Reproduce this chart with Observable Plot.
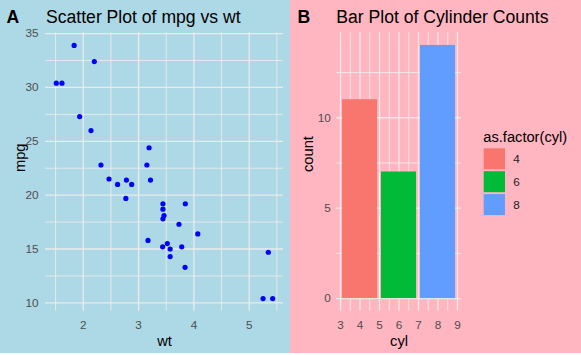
<!DOCTYPE html>
<html><head><meta charset="utf-8">
<script src="https://cdn.jsdelivr.net/npm/d3@7"></script>
<script src="https://cdn.jsdelivr.net/npm/@observablehq/plot@0.6"></script>
<style>
html,body{margin:0;padding:0;background:#fff;}
#wrap{position:relative;width:581px;height:355px;font-family:"Liberation Sans",Arial,sans-serif;}
.panel{position:absolute;top:0;height:353px;overflow:hidden;}
#pa{left:0;width:290px;background:#ADD8E6;}
#pb{left:290px;width:291px;background:#FFB6C1;}
.panel svg{position:absolute;left:0;top:0;}
</style></head><body>
<div id="wrap"><div id="pa" class="panel"></div><div id="pb" class="panel"></div></div>
<script>
// ---- data (mtcars) ----
const wt  = [2.620,2.875,2.320,3.215,3.440,3.460,3.570,3.190,3.150,3.440,3.440,4.070,3.730,3.780,5.250,5.424,5.345,2.200,1.615,1.835,2.465,3.520,3.435,3.840,3.845,1.935,2.140,1.513,3.170,2.770,3.570,2.780];
const mpg = [21.0,21.0,22.8,21.4,18.7,18.1,14.3,24.4,22.8,19.2,17.8,16.4,17.3,15.2,10.4,10.4,14.7,32.4,30.4,33.9,21.5,15.5,15.2,13.3,19.2,27.3,26.0,30.4,15.8,19.7,15.0,21.4];
const cylValues = [4, 6, 8];
const cylLevels = ["4", "6", "8"];
const cylCounts = [11, 7, 14];
const cylColors = ["#F8766D", "#00BA38", "#619CFF"];
const xTicksA = [2, 3, 4, 5];
const xMinorA = [1.5, 2.5, 3.5, 4.5, 5.5];
const yTicksA = [10, 15, 20, 25, 30, 35];
const yMinorA = [12.5, 17.5, 22.5, 27.5, 32.5];
const xTicksB = [3, 4, 5, 6, 7, 8, 9];
const xMinorB = [3.5, 4.5, 5.5, 6.5, 7.5, 8.5];
const yTicksB = [0, 5, 10];
const yMinorB = [2.5, 7.5, 12.5];

const cars = wt.map((w, i) => ({wt: w, mpg: mpg[i]}));
const bars = cylValues.map((c, i) => ({cyl: c, level: cylLevels[i], count: cylCounts[i]}));

const FONT = '"Liberation Sans", Arial, sans-serif';
const GRID = "#EBEBEB";
const TICK = "#4D4D4D";
const fmt = d => String(d);
const expand = ([a, b]) => [a - (b - a) * 0.05, b + (b - a) * 0.05];

// ---- Panel A ----
const plotA = Plot.plot({
  width: 290, height: 353,
  marginLeft: 45, marginRight: 7, marginTop: 32.3, marginBottom: 42.3,
  style: {background: "transparent", fontFamily: FONT, overflow: "visible"},
  x: {domain: expand(d3.extent(wt))},
  y: {domain: expand(d3.extent(mpg))},
  marks: [
    Plot.ruleX(xMinorA, {stroke: GRID, strokeWidth: 0.9}),
    Plot.ruleY(yMinorA, {stroke: GRID, strokeWidth: 0.9}),
    Plot.ruleX(xTicksA, {stroke: GRID, strokeWidth: 1.3}),
    Plot.ruleY(yTicksA, {stroke: GRID, strokeWidth: 1.3}),
    Plot.axisX({ticks: xTicksA, tickFormat: fmt, tickSize: 0, tickPadding: 9, label: null, fill: TICK, fontSize: 11.73}),
    Plot.axisY({ticks: yTicksA, tickFormat: fmt, tickSize: 0, tickPadding: 7, label: null, fill: TICK, fontSize: 11.73}),
    Plot.dot(cars, {x: "wt", y: "mpg", r: 2.6, fill: "blue", stroke: "none"}),
    Plot.text(["wt"], {text: d => d, frameAnchor: "bottom", lineAnchor: "bottom", dy: 34.3, fontSize: 14.67, fill: "black"}),
    Plot.text(["mpg"], {text: d => d, frameAnchor: "left", rotate: -90, dx: -25.5, fontSize: 14.67, fill: "black"}),
    Plot.text(["Scatter Plot of mpg vs wt"], {text: d => d, frameAnchor: "top-left", textAnchor: "start", lineAnchor: "bottom", dx: 0.5, dy: -10, fontSize: 17.6, fill: "black"}),
    Plot.text(["A"], {text: d => d, frameAnchor: "top-left", textAnchor: "start", lineAnchor: "bottom", dx: -39, dy: -10, fontSize: 17.6, fontWeight: "bold", fill: "black"})
  ]
});
document.getElementById("pa").appendChild(plotA);

// ---- Panel B ----
const barExtent = [d3.min(cylValues) - 0.9, d3.max(cylValues) + 0.9];
const plotB = Plot.plot({
  width: 291, height: 353,
  marginLeft: 46.3, marginRight: 120.3, marginTop: 32.3, marginBottom: 42.3,
  style: {background: "transparent", fontFamily: FONT, overflow: "visible"},
  x: {domain: expand(barExtent)},
  y: {domain: expand([0, d3.max(cylCounts)])},
  color: {domain: cylLevels, range: cylColors},
  marks: [
    Plot.ruleX(xMinorB, {stroke: GRID, strokeWidth: 0.9}),
    Plot.ruleY(yMinorB, {stroke: GRID, strokeWidth: 0.9}),
    Plot.ruleX(xTicksB, {stroke: GRID, strokeWidth: 1.3}),
    Plot.ruleY(yTicksB, {stroke: GRID, strokeWidth: 1.3}),
    Plot.rectY(bars, {x1: d => d.cyl - 0.9, x2: d => d.cyl + 0.9, y1: 0, y2: "count", fill: "level"}),
    Plot.axisX({ticks: xTicksB, tickFormat: fmt, tickSize: 0, tickPadding: 9, label: null, fill: TICK, fontSize: 11.73}),
    Plot.axisY({ticks: yTicksB, tickFormat: fmt, tickSize: 0, tickPadding: 6, label: null, fill: TICK, fontSize: 11.73}),
    Plot.text(["cyl"], {text: d => d, frameAnchor: "bottom", lineAnchor: "bottom", dy: 34.3, fontSize: 14.67, fill: "black"}),
    Plot.text(["count"], {text: d => d, frameAnchor: "left", rotate: -90, dx: -29, fontSize: 14.67, fill: "black"}),
    Plot.text(["Bar Plot of Cylinder Counts"], {text: d => d, frameAnchor: "top-left", textAnchor: "start", lineAnchor: "bottom", dx: -0.5, dy: -10, fontSize: 17.6, fill: "black"}),
    Plot.text(["B"], {text: d => d, frameAnchor: "top-left", textAnchor: "start", lineAnchor: "bottom", dx: -39.3, dy: -10, fontSize: 17.6, fontWeight: "bold", fill: "black"})
  ]
});
document.getElementById("pb").appendChild(plotB);

// ---- Legend for panel B (uses plotB's color scale) ----
const colorScale = plotB.scale("color");
const leg = d3.select("#pb").append("svg")
  .attr("width", 100).attr("height", 110)
  .style("left", "190px").style("top", "120px")
  .style("font-family", FONT);
leg.append("text").attr("x", 3.3).attr("y", 21.5)
  .attr("font-size", 14.67).attr("fill", "black").text("as.factor(cyl)");
const item = leg.selectAll("g.item").data(cylLevels).join("g")
  .attr("transform", (d, i) => `translate(3.7,${28.3 + i * 22.9})`);
item.append("rect").attr("width", 21.3).attr("height", 21)
  .attr("fill", d => colorScale.apply(d));
item.append("text").attr("x", 29.6).attr("y", 15)
  .attr("font-size", 11.73).attr("fill", "#1A1A1A").text(d => d);
</script>
</body></html>
